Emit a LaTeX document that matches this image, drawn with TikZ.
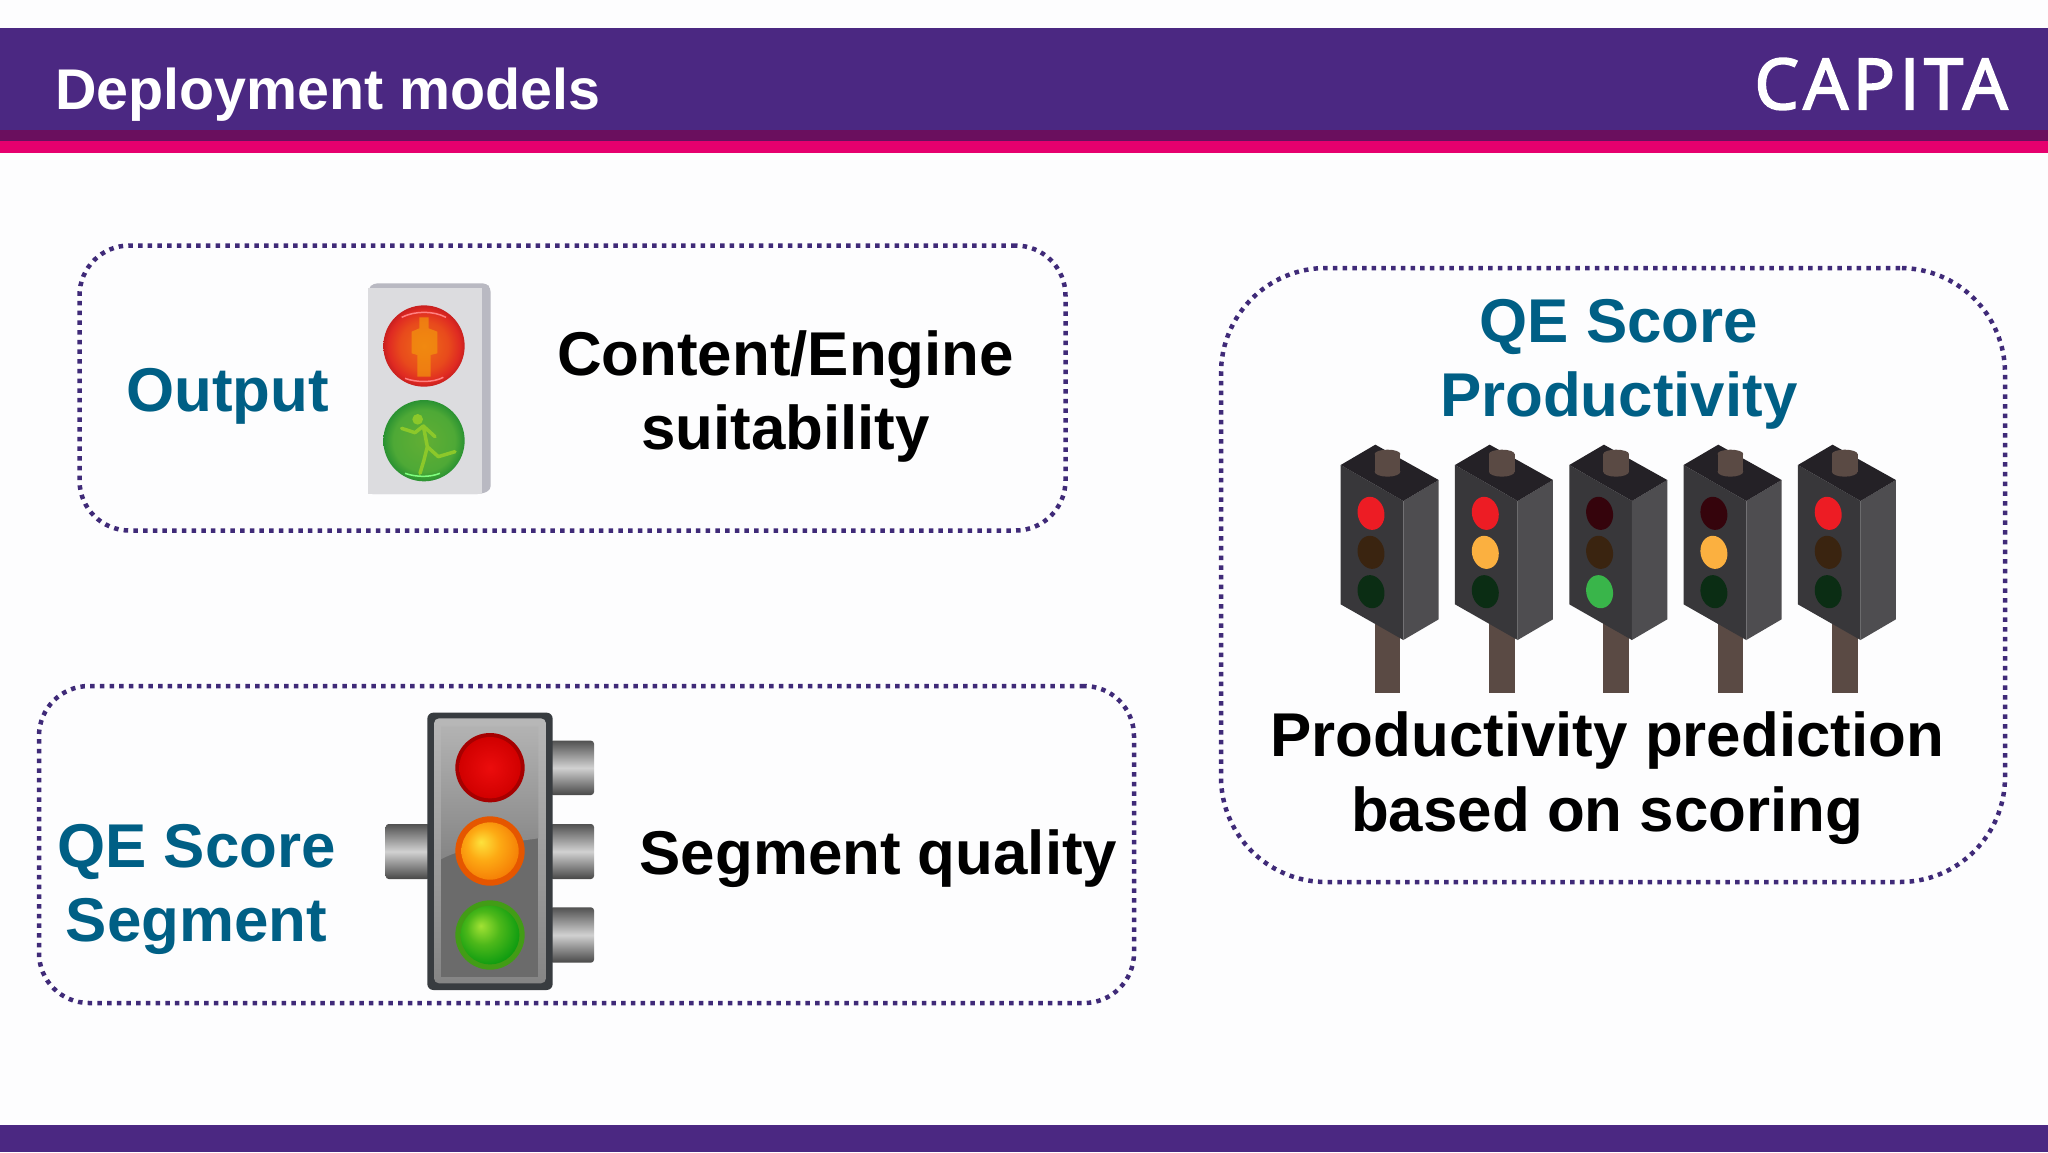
\documentclass[tikz,border=0pt]{standalone}
\usepackage{fontspec}
\setmainfont{Liberation Sans}
\newfontfamily\logofont[FakeBold=3,LetterSpace=7]{Open Sans}
\definecolor{hdrpurple}{HTML}{4B2882}
\definecolor{hdrdark}{HTML}{6A0F5E}
\definecolor{hdrpink}{HTML}{E6006E}
\definecolor{dotpurple}{HTML}{3F2A78}
\definecolor{teal}{HTML}{005F85}
\definecolor{tlfront}{HTML}{38373A}
\definecolor{tlside}{HTML}{4E4D50}
\definecolor{tltop}{HTML}{242126}
\definecolor{tlpole}{HTML}{5A4A44}
\definecolor{rOn}{HTML}{ED1C24}
\definecolor{aOn}{HTML}{FBB040}
\definecolor{gOn}{HTML}{39B54A}
\definecolor{rOff}{HTML}{35040C}
\definecolor{aOff}{HTML}{3A2410}
\definecolor{gOff}{HTML}{0B2D14}
\definecolor{frameGrey}{HTML}{383C40}
\definecolor{pedBody}{HTML}{DCDCDF}
\definecolor{pedShade}{HTML}{B9B9C2}
\definecolor{pedFig}{HTML}{F39A0C}
\definecolor{pedRun}{HTML}{8CC82A}
\definecolor{amA}{HTML}{FDE23C}
\definecolor{amB}{HTML}{FDAA14}
\definecolor{amC}{HTML}{F57D05}
\definecolor{gA}{HTML}{A2E234}
\definecolor{gB}{HTML}{4DB81A}
\definecolor{gC}{HTML}{0A9A10}
\definecolor{pA}{HTML}{EE6A18}
\definecolor{pB}{HTML}{E84A1C}
\definecolor{pC}{HTML}{DF2A22}
\definecolor{pD}{HTML}{C9201F}
\definecolor{qA}{HTML}{62AE34}
\definecolor{qB}{HTML}{4EA936}
\definecolor{qC}{HTML}{2A9232}
\pgfdeclareradialshading{amberball}{\pgfpoint{-8bp}{8bp}}{color(0bp)=(amA);color(14bp)=(amB);color(30bp)=(amC);color(50bp)=(amC)}
\pgfdeclareradialshading{greenball}{\pgfpoint{-8bp}{8bp}}{color(0bp)=(gA);color(14bp)=(gB);color(30bp)=(gC);color(50bp)=(gC)}
\pgfdeclareradialshading{pedred}{\pgfpoint{0bp}{0bp}}{color(0bp)=(pA);color(15bp)=(pB);color(22bp)=(pC);color(25bp)=(pD);color(50bp)=(pD)}
\pgfdeclareradialshading{pedgreen}{\pgfpoint{0bp}{0bp}}{color(0bp)=(qA);color(19bp)=(qB);color(25bp)=(qC);color(50bp)=(qC)}
\tikzset{
  dotbox/.style={draw=dotpurple,line width=4.5pt,dash pattern=on 4.5pt off 5.2pt,inner sep=0pt,outer sep=0pt},
  lbl/.style={font=\fontsize{61.85}{74}\selectfont\bfseries,inner sep=0pt,anchor=base},
  tealbl/.style={lbl,text=teal},
  blacklbl/.style={lbl,text=black},
  tab/.style={rounded corners=3pt,top color=black!68,bottom color=black!72,middle color=black!18},
}
\begin{document}
\begin{tikzpicture}[x=1pt,y=-1pt]
\useasboundingbox (0,0) rectangle (2048,1152);
\fill[white!99!hdrpurple] (0,0) rectangle (2048,1152);
% header / footer
\fill[hdrpurple] (0,27.5) rectangle (2048,130);
\fill[hdrdark] (0,130) rectangle (2048,141);
\fill[hdrpink] (0,141) rectangle (2048,153);
\fill[hdrpurple] (0,1125) rectangle (2048,1152);
\node[lbl,text=white,anchor=base west,font=\fontsize{57.4}{69}\selectfont\bfseries] (title) at (55,109) {Deployment models};
\node[text=white,inner sep=0pt,anchor=base east,font=\fontsize{70}{84}\logofont] (logo) at (2007.5,109) {CAPITA};
% boxes
\node[dotbox,rounded corners=50pt,minimum width=986pt,minimum height=285pt] (boxA) at (572.5,388) {};
\node[dotbox,rounded corners=50pt,minimum width=1095pt,minimum height=317pt] (boxB) at (586.5,844.5) {};
\node[dotbox,rounded corners=105pt,minimum width=784pt,minimum height=614pt] (boxC) at (1613,575) {};
% texts
\node[tealbl] (tOut) at (227.5,411.3) {Output};
\node[blacklbl] (tCE1) at (785.5,375) {Content/Engine};
\node[blacklbl] (tCE2) at (785.5,449) {suitability};
\node[tealbl] (tQS1) at (196.5,867) {QE Score};
\node[tealbl] (tQS2) at (196.5,941) {Segment};
\node[blacklbl] (tSQ) at (878.5,874) {Segment quality};
\node[tealbl] (tQP1) at (1618.7,342) {QE Score};
\node[tealbl] (tQP2) at (1618.7,416.7) {Productivity};
\node[blacklbl] (tPP1) at (1607.2,756) {Productivity prediction};
\node[blacklbl] (tPP2) at (1607.2,831) {based on scoring};
% pedestrian light
\begin{scope}[shift={(340,260)},x=0.33333pt,y=-0.33333pt]
  \fill[pedShade,rounded corners=4pt] (100,70) -- (440,70) -- (452,85) -- (452,690) -- (425,702) -- (85,702) -- (85,85) -- cycle;
  \fill[pedBody] (85,85) rectangle (425,702);
  \shade[shading=pedred] (252,258) circle [radius=122];
  \fill[pedFig,opacity=.65] (238,172) -- (266,172) -- (266,205) -- (292,215) -- (292,280) -- (272,285) -- (272,350) -- (232,350) -- (232,285) -- (215,280) -- (215,215) -- (238,205) -- cycle;
  \draw[white!50!red,line width=1.5pt] (185,172) .. controls (225,152) and (280,152) .. (318,172);
  \draw[white!50!red,line width=1.5pt] (195,355) .. controls (230,368) and (280,368) .. (310,352);
  \shade[shading=pedgreen] (252,542) circle [radius=122];
  \draw[pedRun,line width=3.5pt,line cap=round,line join=round]
     (185,505) -- (225,518) -- (250,498) -- (262,560) -- (252,600) -- (240,640)
     (262,560) -- (295,590) -- (345,575)
     (250,498) -- (285,530);
  \fill[pedRun] (233,478) circle [radius=16];
  \draw[white!50!green,line width=1.5pt] (195,640) .. controls (230,652) and (270,652) .. (300,640);
\end{scope}
% segment light
\begin{scope}[shift={(370,700)},x=0.33333pt,y=-0.33333pt]
  \foreach \yt/\yb in {122/285,372/537,622/788}{
    \shade[tab] (540,\yt) rectangle (672,\yb);
  }
  \shade[tab] (47,372) rectangle (180,537);
  \fill[rounded corners=6pt,frameGrey] (172,38) rectangle (548,870);
  \shade[rounded corners=5pt,top color=black!28,bottom color=black!48] (192,55) rectangle (528,850);
  \fill[black!58] (213,80) rectangle (505,830);
  \shade[top color=black!30,bottom color=black!48] (213,80) -- (505,80) -- (505,415) .. controls (400,430) and (280,440) .. (213,478) -- cycle;
  \fill[red!65!black] (360,203) circle [radius=104];
  \shade[inner color=red!92!black!95!white,outer color=red!82!black] (360,203) circle [radius=92];
  \fill[orange!75!red!90!black] (360,453) circle [radius=104];
  \shade[shading=amberball] (360,453) circle [radius=86];
  \fill[gB!85!black] (360,705) circle [radius=104];
  \shade[shading=greenball] (360,705) circle [radius=88];
\end{scope}
% row of five lights
\foreach \i/\cr/\ca/\cg in {0/rOn/aOff/gOff,1/rOn/aOn/gOff,2/rOff/aOff/gOn,3/rOff/aOn/gOff,4/rOn/aOff/gOff}{
  \begin{scope}[shift={(1300+114.3*\i,430)},x=0.33333pt,y=-0.33333pt]
    \fill[tlpole] (224,500) rectangle (301,790);
    \fill[tlfront] (122,105) -- (310,213) -- (310,630) -- (122,523) -- cycle;
    \fill[tlside] (310,213) -- (416,150) -- (416,568) -- (310,630) -- cycle;
    \fill[tltop] (122,105) -- (226,44) -- (416,150) -- (310,213) -- cycle;
    \fill[tlpole] (224,72) rectangle (301,125);
    \fill[tlpole] (262.5,72) ellipse [x radius=38.5,y radius=13];
    \fill[tlpole] (262.5,125) ellipse [x radius=38.5,y radius=15];
    \fill[\cr,rotate around={12:(213,250)}] (213,250) ellipse [x radius=40,y radius=50];
    \fill[\ca,rotate around={12:(213,367)}] (213,367) ellipse [x radius=40,y radius=50];
    \fill[\cg,rotate around={12:(213,485)}] (213,485) ellipse [x radius=40,y radius=50];
  \end{scope}
}
\end{tikzpicture}
\end{document}
